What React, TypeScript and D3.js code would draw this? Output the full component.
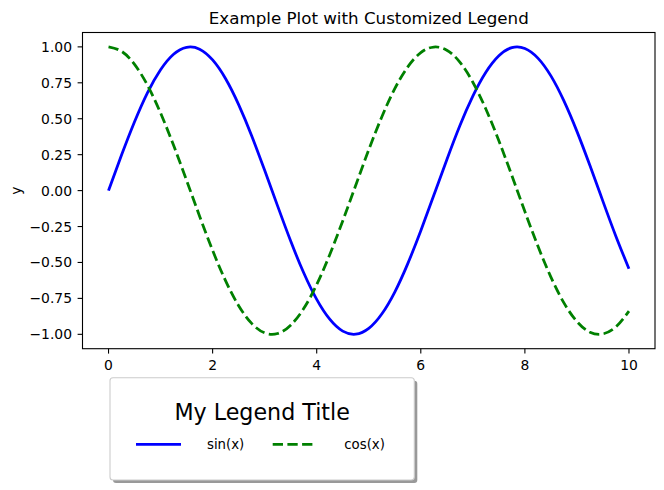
import React from "react";
import * as d3 from "d3";

const xValues = [0, 0.25, 0.5, 0.75, 1, 1.25, 1.5, 1.75, 2, 2.25, 2.5, 2.75, 3, 3.25, 3.5, 3.75, 4, 4.25, 4.5, 4.75, 5, 5.25, 5.5, 5.75, 6, 6.25, 6.5, 6.75, 7, 7.25, 7.5, 7.75, 8, 8.25, 8.5, 8.75, 9, 9.25, 9.5, 9.75, 10];
const sinValues = [0, 0.247, 0.479, 0.682, 0.841, 0.949, 0.997, 0.984, 0.909, 0.778, 0.598, 0.382, 0.141, -0.108, -0.351, -0.572, -0.757, -0.895, -0.978, -0.999, -0.959, -0.859, -0.706, -0.508, -0.279, -0.033, 0.215, 0.451, 0.657, 0.823, 0.938, 0.995, 0.989, 0.922, 0.798, 0.624, 0.412, 0.174, -0.075, -0.319, -0.544];
const cosValues = [1, 0.969, 0.878, 0.732, 0.54, 0.315, 0.071, -0.178, -0.416, -0.628, -0.801, -0.924, -0.99, -0.994, -0.936, -0.821, -0.654, -0.446, -0.211, 0.037, 0.284, 0.512, 0.709, 0.861, 0.96, 0.999, 0.977, 0.894, 0.754, 0.568, 0.347, 0.104, -0.146, -0.386, -0.602, -0.781, -0.911, -0.985, -0.997, -0.948, -0.839];
const xTicks = [0, 2, 4, 6, 8, 10];
const yTicks = [-1, -0.75, -0.5, -0.25, 0, 0.25, 0.5, 0.75, 1];
const seriesNames = ["sin(x)", "cos(x)"];

const W = 664, H = 490;
const left = 82.5, right = 655, top = 32.5, bottom = 348.7;
const font = "DejaVu Sans, sans-serif";

export default function App() {
  const x = d3.scaleLinear().domain([-0.5, 10.5]).range([left, right]);
  const y = d3.scaleLinear().domain([-1.1, 1.1]).range([bottom, top]);
  const line = (vals: number[]) =>
    d3.line<number>().x((_, i) => x(xValues[i])).y((d) => y(d)).curve(d3.curveNatural)(vals) || "";
  const fmtY = (v: number) => (v < 0 ? "\u2212" : "") + Math.abs(v).toFixed(2);

  const lgL = 110, lgT = 377.7, lgR = 414.3, lgB = 480;
  return (
    <div style={{ position: "fixed", left: 0, top: 0 }}>
      <svg width={W} height={H} style={{ display: "block", background: "#fff" }}>
        <rect x={0} y={0} width={W} height={H} fill="#fff" />
        <text x={(left + right) / 2} y={24} textAnchor="middle" fontFamily={font} fontSize={16.7}>
          Example Plot with Customized Legend
        </text>
        <path d={line(sinValues)} fill="none" stroke="#0000ff" strokeWidth={2.78} />
        <path d={line(cosValues)} fill="none" stroke="#008000" strokeWidth={2.78} strokeDasharray="10.3 4.4" />
        <rect x={left} y={top} width={right - left} height={bottom - top} fill="none" stroke="#000" strokeWidth={1.1} />
        {xTicks.map((t) => (
          <g key={"x" + t}>
            <line x1={x(t)} x2={x(t)} y1={bottom} y2={bottom + 4.9} stroke="#000" strokeWidth={1.1} />
            <text x={x(t)} y={370} textAnchor="middle" fontFamily={font} fontSize={13.9}>{t}</text>
          </g>
        ))}
        {yTicks.map((t) => (
          <g key={"y" + t}>
            <line x1={left} x2={left - 4.9} y1={y(t)} y2={y(t)} stroke="#000" strokeWidth={1.1} />
            <text x={72} y={y(t) + 5} textAnchor="end" fontFamily={font} fontSize={13.9}>{fmtY(t)}</text>
          </g>
        ))}
        <text transform={`translate(21,${(top + bottom) / 2}) rotate(-90)`} textAnchor="middle" fontFamily={font} fontSize={13.9}>y</text>

        <rect x={lgL + 3} y={lgT + 3} width={lgR - lgL} height={lgB - lgT} rx={3} fill="#808080" opacity={0.8} />
        <rect x={lgL} y={lgT} width={lgR - lgL} height={lgB - lgT} rx={3} fill="#fff" stroke="#cccccc" strokeWidth={1.1} />
        <text x={(lgL + lgR) / 2} y={420} textAnchor="middle" fontFamily={font} fontSize={22.2}>My Legend Title</text>
        <line x1={136} x2={181} y1={444.3} y2={444.3} stroke="#0000ff" strokeWidth={2.78} />
        <text x={207} y={449} fontFamily={font} fontSize={13.3}>{seriesNames[0]}</text>
        <line x1={272.7} x2={313.3} y1={444.3} y2={444.3} stroke="#008000" strokeWidth={2.78} strokeDasharray="10.3 4.4" />
        <text x={344.3} y={449} fontFamily={font} fontSize={13.3}>{seriesNames[1]}</text>
      </svg>
    </div>
  );
}
